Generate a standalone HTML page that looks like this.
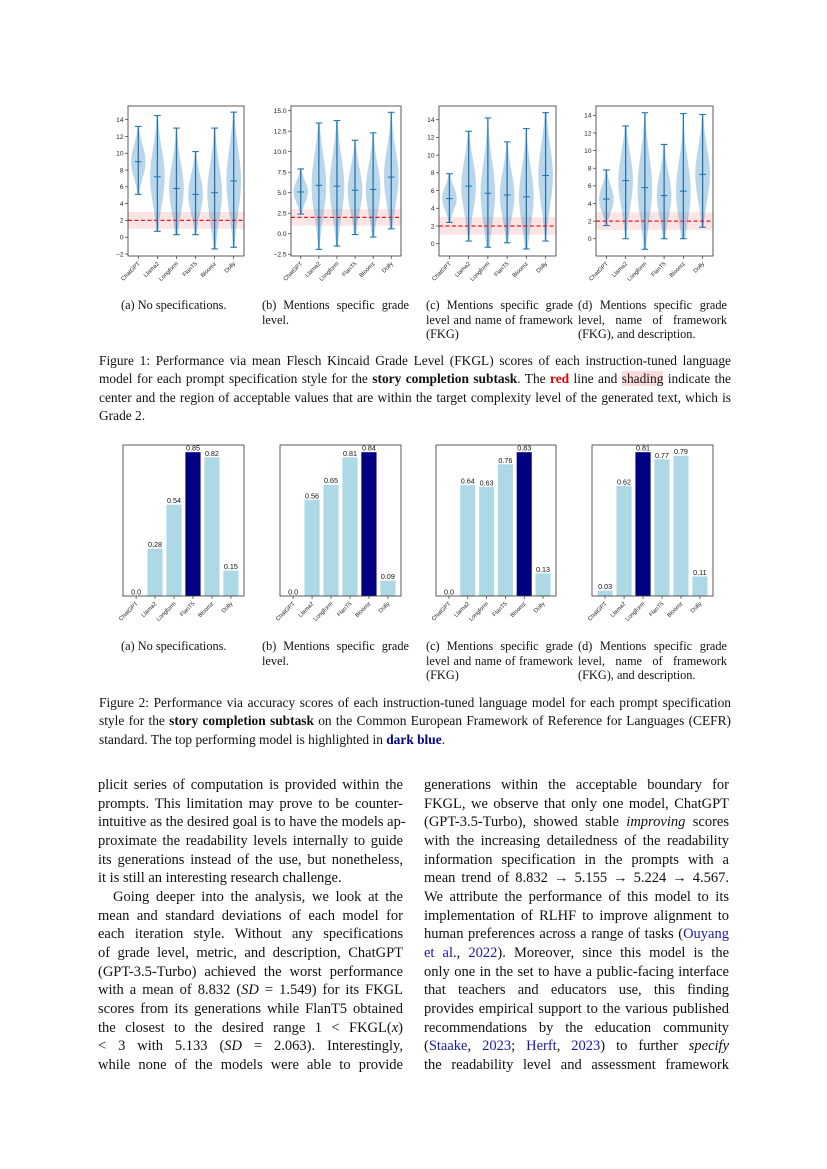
<!DOCTYPE html>
<html><head><meta charset="utf-8">
<style>
html,body{margin:0;padding:0;background:#fff;}
body{width:827px;height:1169px;position:relative;overflow:hidden;font-family:"Liberation Serif",serif;color:#111;}
.abs{position:absolute;}
.sub{position:absolute;font-size:12.3px;line-height:14.5px;text-align:justify;}
.cap{position:absolute;left:99px;width:632px;font-size:13.4px;line-height:18.3px;}
.cap div{text-align:justify;text-align-last:justify;white-space:nowrap;}
.cap div.last{text-align-last:left;}
.col{position:absolute;top:776px;width:305px;font-size:14.5px;line-height:18.67px;}
.col div{text-align:justify;text-align-last:justify;white-space:nowrap;height:18.67px;}
.col div.last{text-align-last:left;}
.ind{padding-left:15px;}
.cite{color:#1a1aa6;}
.red{color:#e00000;font-weight:bold;}
.shade{background:#fbdcdc;}
.db{color:#00008b;font-weight:bold;}
svg text{font-family:"Liberation Sans",sans-serif;}
</style></head>
<body>
<svg id="charts" class="abs" style="left:0;top:0" width="827" height="1169"></svg>

<div class="sub" style="left:121px;top:298px;width:130px">(a) No specifications.</div>
<div class="sub" style="left:262px;top:298px;width:147px">(b) Mentions specific grade level.</div>
<div class="sub" style="left:426px;top:298px;width:147px">(c) Mentions specific grade level and name of framework (FKG)</div>
<div class="sub" style="left:578px;top:298px;width:149px">(d) Mentions specific grade level, name of framework (FKG), and description.</div>

<div class="cap" style="top:352px">
<div>Figure 1: Performance via mean Flesch Kincaid Grade Level (FKGL) scores of each instruction-tuned language</div>
<div>model for each prompt specification style for the <b>story completion subtask</b>. The <span class="red">red</span> line and <span class="shade">shading</span> indicate the</div>
<div>center and the region of acceptable values that are within the target complexity level of the generated text, which is</div>
<div class="last">Grade 2.</div>
</div>

<div class="sub" style="left:121px;top:639px;width:130px">(a) No specifications.</div>
<div class="sub" style="left:262px;top:639px;width:147px">(b) Mentions specific grade level.</div>
<div class="sub" style="left:426px;top:639px;width:147px">(c) Mentions specific grade level and name of framework (FKG)</div>
<div class="sub" style="left:578px;top:639px;width:149px">(d) Mentions specific grade level, name of framework (FKG), and description.</div>

<div class="cap" style="top:694px">
<div>Figure 2: Performance via accuracy scores of each instruction-tuned language model for each prompt specification</div>
<div>style for the <b>story completion subtask</b> on the Common European Framework of Reference for Languages (CEFR)</div>
<div class="last">standard. The top performing model is highlighted in <span class="db">dark blue</span>.</div>
</div>

<div class="col" style="left:98px">
<div>plicit series of computation is provided within the</div>
<div>prompts. This limitation may prove to be counter-</div>
<div>intuitive as the desired goal is to have the models ap-</div>
<div>proximate the readability levels internally to guide</div>
<div>its generations instead of the use, but nonetheless,</div>
<div class="last">it is still an interesting research challenge.</div>
<div class="ind">Going deeper into the analysis, we look at the</div>
<div>mean and standard deviations of each model for</div>
<div>each iteration style. Without any specifications</div>
<div>of grade level, metric, and description, ChatGPT</div>
<div>(GPT-3.5-Turbo) achieved the worst performance</div>
<div>with a mean of 8.832 (<i>SD</i> = 1.549) for its FKGL</div>
<div>scores from its generations while FlanT5 obtained</div>
<div>the closest to the desired range 1 &lt; FKGL(<i>x</i>)</div>
<div>&lt; 3 with 5.133 (<i>SD</i> = 2.063). Interestingly,</div>
<div>while none of the models were able to provide</div>
</div>

<div class="col" style="left:424px">
<div>generations within the acceptable boundary for</div>
<div>FKGL, we observe that only one model, ChatGPT</div>
<div>(GPT-3.5-Turbo), showed stable <i>improving</i> scores</div>
<div>with the increasing detailedness of the readability</div>
<div>information specification in the prompts with a</div>
<div>mean trend of 8.832 → 5.155 → 5.224 → 4.567.</div>
<div>We attribute the performance of this model to its</div>
<div>implementation of RLHF to improve alignment to</div>
<div>human preferences across a range of tasks (<span class="cite">Ouyang</span></div>
<div><span class="cite">et al.</span>, <span class="cite">2022</span>). Moreover, since this model is the</div>
<div>only one in the set to have a public-facing interface</div>
<div>that teachers and educators use, this finding</div>
<div>provides empirical support to the various published</div>
<div>recommendations by the education community</div>
<div>(<span class="cite">Staake</span>, <span class="cite">2023</span>; <span class="cite">Herft</span>, <span class="cite">2023</span>) to further <i>specify</i></div>
<div>the readability level and assessment framework</div>
</div>

<script>
const cats = ["ChatGPT","Llama2","Longform","FlanT5","Bloomz","Dolly"];
// Figure 1 violin data (min, max, mean) per panel
const vMinA = [5.1,0.7,0.3,0.3,-1.4,-1.2];
const vMaxA = [13.2,14.5,13.0,10.2,13.0,14.9];
const vMeanA = [9.0,7.2,5.8,5.1,5.3,6.7];
const vMinB = [2.4,-1.9,-1.5,-0.1,-0.4,0.6];
const vMaxB = [7.9,13.5,13.8,11.4,12.3,14.8];
const vMeanB = [5.1,5.9,5.8,5.3,5.4,6.9];
const vMinC = [2.4,0.3,-0.4,0.1,-0.6,0.3];
const vMaxC = [7.9,12.7,14.2,11.5,13.0,14.8];
const vMeanC = [5.1,6.5,5.7,5.5,5.3,7.7];
const vMinD = [1.5,0.0,-1.2,0.0,0.0,1.3];
const vMaxD = [7.8,12.8,14.3,10.7,14.2,14.1];
const vMeanD = [4.5,6.6,5.8,4.9,5.4,7.3];
const ticksA = [-2,0,2,4,6,8,10,12,14];
const ticksB = [-2.5,0,2.5,5,7.5,10,12.5,15];
const tickLabB = ["\u22122.5","0.0","2.5","5.0","7.5","10.0","12.5","15.0"];
const ticksC = [0,2,4,6,8,10,12,14];
const ticksD = [0,2,4,6,8,10,12,14];
const target = 2, bandLo = 1, bandHi = 3;
// Figure 2 accuracy
const accA = [0.0,0.28,0.54,0.85,0.82,0.15];
const accB = [0.0,0.56,0.65,0.81,0.84,0.09];
const accC = [0.0,0.64,0.63,0.76,0.83,0.13];
const accD = [0.03,0.62,0.81,0.77,0.79,0.11];

const NS="http://www.w3.org/2000/svg";
const svg=document.getElementById('charts');
function mk(tag,attrs,parent){const e=document.createElementNS(NS,tag);for(const k in attrs)e.setAttribute(k,attrs[k]);(parent||svg).appendChild(e);return e;}

function xLabels(g,x0,y1,xs){
  cats.forEach((c,i)=>{
    const cx=xs(i);
    const t=mk('line',{x1:cx,y1:y1,x2:cx,y2:y1+3,stroke:'#333','stroke-width':0.7},g);
    
    
    const tx=mk('text',{x:cx+2,y:y1+8,'font-size':5.8,'text-anchor':'end',fill:'#222',transform:`rotate(-45 ${cx+2} ${y1+8})`},g);
    tx.textContent=c;
    
    
  });
}

function violinPanel(name,box,ylim,mins,maxs,means,ticks,tickLabels){
  const g=mk('g',{});
  
  
  const [x0,y0,x1,y1]=box;
  const ys=v=>y1-(v-ylim[0])/(ylim[1]-ylim[0])*(y1-y0);
  const step=(x1-x0)/6.08;
  const xs=i=>x0+step*(0.54+i);
  const band=mk('rect',{x:x0,y:ys(bandHi),width:x1-x0,height:ys(bandLo)-ys(bandHi),fill:'#fde4e4'},g);
  
  
  cats.forEach((c,i)=>{
    const cx=xs(i),mn=mins[i],mx=maxs[i],mu=means[i];
    const sig=(mx-mn)/4.2;
    const hw=7.3;
    let L=[],R=[];
    for(let k=0;k<=40;k++){
      const v=mn+(mx-mn)*k/40;
      const w=hw*Math.exp(-0.5*Math.pow((v-mu)/sig,2));
      R.push(`${(cx+w).toFixed(2)},${ys(v).toFixed(2)}`);
      L.unshift(`${(cx-w).toFixed(2)},${ys(v).toFixed(2)}`);
    }
    const p=mk('polygon',{points:R.concat(L).join(' '),fill:'#1f77b4','fill-opacity':0.3},g);
    
    
    const l=mk('line',{x1:cx,y1:ys(mn),x2:cx,y2:ys(mx),stroke:'#1f77b4','stroke-width':1.3},g);
    
    
    [mn,mx,mu].forEach(v=>{
      const c2=mk('line',{x1:cx-3.3,y1:ys(v),x2:cx+3.3,y2:ys(v),stroke:'#1f77b4','stroke-width':1.1},g);
      
      
    });
  });
  const rl=mk('line',{x1:x0,y1:ys(target),x2:x1,y2:ys(target),stroke:'#e02020','stroke-width':1.2,'stroke-dasharray':'4,2.5'},g);
  
  
  const fr=mk('rect',{x:x0,y:y0,width:x1-x0,height:y1-y0,fill:'none',stroke:'#333','stroke-width':0.8},g);
  
  
  ticks.forEach((t,j)=>{
    const yy=ys(t);
    const tk=mk('line',{x1:x0-3,y1:yy,x2:x0,y2:yy,stroke:'#333','stroke-width':0.7},g);
    
    
    const tx=mk('text',{x:x0-4.5,y:yy+2.3,'font-size':6.6,'text-anchor':'end',fill:'#222'},g);
    tx.textContent=tickLabels?tickLabels[j]:(t<0?'\u2212'+(-t):String(t));
    
    
  });
  xLabels(g,x0,y1,xs);
}

function barPanel(name,box,vals){
  const g=mk('g',{});
  
  
  const [x0,y0,x1,y1]=box;
  const mx=Math.max(...vals);
  const top=mx*1.05;
  const ys=v=>y1-v/top*(y1-y0);
  const step=(x1-x0)/6.38;
  const xs=i=>x0+step*(0.69+i);
  vals.forEach((v,i)=>{
    const cx=xs(i);
    const r=mk('rect',{x:cx-0.4*step,y:ys(v),width:0.8*step,height:y1-ys(v),fill:v===mx?'#000080':'#add8e6'},g);
    
    
    const t=mk('text',{x:cx,y:ys(v)-1.5,'font-size':7.2,'text-anchor':'middle',fill:'#111'},g);
    t.textContent=String(v===0?'0.0':v);
    
    
  });
  const fr=mk('rect',{x:x0,y:y0,width:x1-x0,height:y1-y0,fill:'none',stroke:'#333','stroke-width':0.8},g);
  
  
  xLabels(g,x0,y1,xs);
}

violinPanel('violin-chart-a',[128,106,244,256],[-2.24,15.63],vMinA,vMaxA,vMeanA,ticksA);
violinPanel('violin-chart-b',[291,106,401,256],[-2.71,15.57],vMinB,vMaxB,vMeanB,ticksB,tickLabB);
violinPanel('violin-chart-c',[439,106,556,256],[-1.39,15.55],vMinC,vMaxC,vMeanC,ticksC);
violinPanel('violin-chart-d',[596,106,713,256],[-1.96,15.06],vMinD,vMaxD,vMeanD,ticksD);

barPanel('bar-chart-a',[123,445,244,596],accA);
barPanel('bar-chart-b',[280,445,401,596],accB);
barPanel('bar-chart-c',[436,445,556,596],accC);
barPanel('bar-chart-d',[592,445,713,596],accD);
</script>
</body></html>
